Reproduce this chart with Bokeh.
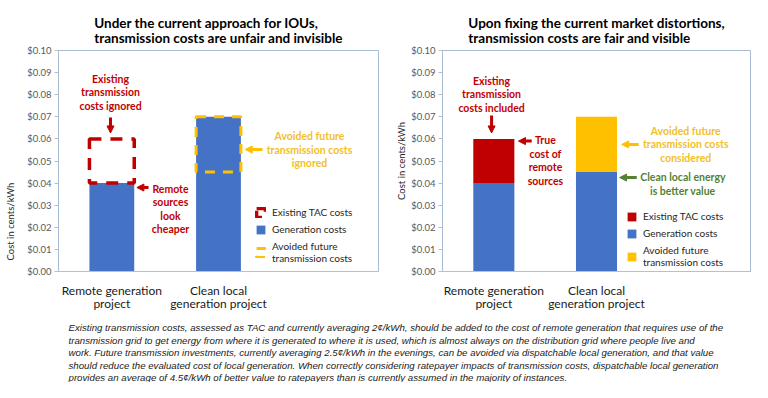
import math
from bokeh.plotting import figure
from bokeh.models import (Range1d, FixedTicker, NumeralTickFormatter, Label, Arrow, Title,
                          NormalHead, Legend, LegendItem, ColumnDataSource)
from bokeh.layouts import column, row
from bokeh.embed import file_html
from bokeh.resources import INLINE

# ---------------- data ----------------
categories = ["Remote generation\nproject", "Clean local\ngeneration project"]
cat_pos = [0.5, 1.5]
y_ticks = [0.00, 0.01, 0.02, 0.03, 0.04, 0.05, 0.06, 0.07, 0.08, 0.09, 0.10]

# left chart: current approach (costs hidden)
left_generation = [0.040, 0.070]
left_tac_ignored = [0.020, 0.000]
left_avoided_ignored = [0.000, 0.025]

# right chart: fixed market (costs visible)
right_generation = [0.040, 0.045]
right_tac = [0.020, 0.000]
right_avoided = [0.000, 0.025]

left_title = "Under the current approach for IOUs,\ntransmission costs are unfair and invisible"
right_title = "Upon fixing the current market distortions,\ntransmission costs are fair and visible"
y_label = "Cost in cents/kWh"
caption_lines = [
    "Existing transmission costs, assessed as TAC and currently averaging 2\u00a2/kWh, should be added to the cost of remote generation that requires use of the",
    "transmission grid to get energy from where it is generated to where it is used, which is almost always on the distribution grid where people live and",
    "work.  Future transmission investments, currently averaging 2.5\u00a2/kWh in the evenings, can be avoided via dispatchable local generation, and that value",
    "should reduce the evaluated cost of local generation. When correctly considering ratepayer impacts of transmission costs, dispatchable local generation",
    "provides an average of 4.5\u00a2/kWh of better value to ratepayers than is currently assumed in the majority of instances.",
]

BLUE = "#4472C4"
RED = "#C00000"
YEL = "#FFC000"
YEL_T = "#F2C029"
GREEN = "#548235"
FONT = "Lato"


def base_fig(width, left_border, right_border, title, title_offset):
    p = figure(width=width, height=318, output_backend="svg", toolbar_location=None,
               x_range=Range1d(0, 3), y_range=Range1d(0, 0.1),
               min_border_left=left_border, min_border_right=right_border,
               min_border_top=50, min_border_bottom=47)
    p.title = Title(text=title, align="center", offset=title_offset, standoff=9,
                    text_font=FONT, text_font_size="13.5px", text_font_style="bold",
                    text_color="#000000", text_line_height=0.95)
    p.xgrid.visible = False
    p.ygrid.visible = False
    p.outline_line_color = "#A9BCD6"
    p.outline_line_width = 1
    p.background_fill_color = "white"
    p.border_fill_color = "white"
    # y axis
    p.yaxis.ticker = FixedTicker(ticks=y_ticks)
    p.yaxis.formatter = NumeralTickFormatter(format="$0.00")
    p.yaxis.minor_tick_line_color = None
    p.yaxis.major_tick_in = 0
    p.yaxis.major_tick_out = 4
    p.yaxis.major_tick_line_color = "#BFBFBF"
    p.yaxis.axis_line_color = "#A9BCD6"
    p.yaxis.major_label_text_font = FONT
    p.yaxis.major_label_text_font_size = "9.5px"
    p.yaxis.major_label_text_color = "#595959"
    p.yaxis.major_label_standoff = 3
    # x axis
    p.xaxis.ticker = FixedTicker(ticks=cat_pos)
    p.xaxis.major_label_overrides = {cat_pos[i]: categories[i] for i in range(len(cat_pos))}
    p.xaxis.minor_tick_line_color = None
    p.xaxis.major_tick_line_color = None
    p.xaxis.major_tick_in = 0
    p.xaxis.major_tick_out = 0
    p.xaxis.axis_line_color = "#BFBFBF"
    p.xaxis.major_label_text_font = FONT
    p.xaxis.major_label_text_font_size = "12px"
    p.xaxis.major_label_text_color = "#1a1a1a"
    p.xaxis.major_label_text_line_height = 0.9
    p.xaxis.major_label_standoff = 11
    return p


def add_text(p, x, y, text, color, size="10.5px"):
    p.add_layout(Label(x=x, y=y, text=text, text_color=color, text_font=FONT,
                       text_font_size=size, text_font_style="bold",
                       text_align="center", text_baseline="middle", text_line_height=1.12))


def add_arrow(p, x0, y0, x1, y1, color):
    p.add_layout(Arrow(end=NormalHead(size=7, fill_color=color, line_color=color, line_width=1),
                       x_start=x0, y_start=y0, x_end=x1, y_end=y1,
                       line_color=color, line_width=3))


def make_legend(p, items, loc):
    lg = Legend(items=items, location=loc, padding=0, margin=0, spacing=5,
                glyph_width=11, glyph_height=11, label_height=11, label_standoff=6,
                label_text_font=FONT, label_text_font_size="10px", label_text_color="#262626",
                background_fill_alpha=0, border_line_color=None)
    p.add_layout(lg)


# ---------------- left chart ----------------
p1 = base_fig(380, 58, 2, left_title, -2)
src_l = ColumnDataSource(dict(
    x=cat_pos,
    gen=left_generation,
    tac_bot=[left_generation[i] if left_tac_ignored[i] > 0 else math.nan for i in range(2)],
    tac_top=[left_generation[i] + left_tac_ignored[i] if left_tac_ignored[i] > 0 else math.nan for i in range(2)],
    av_bot=[left_generation[i] - left_avoided_ignored[i] if left_avoided_ignored[i] > 0 else math.nan for i in range(2)],
    av_top=[left_generation[i] if left_avoided_ignored[i] > 0 else math.nan for i in range(2)],
))
r_gen = p1.vbar(x="x", top="gen", bottom=0, width=0.42, source=src_l,
                fill_color=BLUE, line_color=None)
r_tac = p1.vbar(x="x", top="tac_top", bottom="tac_bot", width=0.42, source=src_l,
                fill_color=None, line_color=RED, line_width=3.5, line_dash="12 9")
r_av = p1.vbar(x="x", top="av_top", bottom="av_bot", width=0.42, source=src_l,
               fill_color=None, line_color=YEL, line_width=3, line_dash="10 8")

add_text(p1, 0.4875, 0.0810, "Existing\ntransmission\ncosts ignored", RED)
add_arrow(p1, 0.4875, 0.0697, 0.4875, 0.0627, RED)
add_text(p1, 1.05, 0.0283, "Remote\nsources\nlook\ncheaper", RED)
add_arrow(p1, 0.844, 0.038, 0.735, 0.038, RED)
add_text(p1, 2.353, 0.0551, "Avoided future\ntransmission costs\nignored", YEL_T)
add_arrow(p1, 1.9125, 0.0552, 1.75, 0.0552, YEL)
make_legend(p1, [LegendItem(label="Existing TAC costs", renderers=[r_tac]),
                 LegendItem(label="Generation costs", renderers=[r_gen]),
                 LegendItem(label="Avoided future\ntransmission costs", renderers=[r_av])],
            (197, 7))
p1.add_layout(Label(x=-0.45, y=0.0226, text=y_label, angle=math.pi / 2,
                    text_font=FONT, text_font_size="9.5px", text_align="center",
                    text_baseline="middle", text_color="#262626"), "left")

# ---------------- right chart ----------------
p2 = base_fig(372, 62, 2, right_title, -6)
p2.yaxis.axis_label = y_label
p2.yaxis.axis_label_text_font = FONT
p2.yaxis.axis_label_text_font_size = "9.5px"
p2.yaxis.axis_label_text_font_style = "normal"
p2.yaxis.axis_label_text_color = "#262626"
p2.yaxis.axis_label_standoff = 1
src_r = ColumnDataSource(dict(
    x=cat_pos,
    gen=right_generation,
    tac_top=[right_generation[i] + right_tac[i] for i in range(2)],
    av_top=[right_generation[i] + right_tac[i] + right_avoided[i] for i in range(2)],
))
q_gen = p2.vbar(x="x", top="gen", bottom=0, width=0.40, source=src_r,
                fill_color=BLUE, line_color=None)
q_tac = p2.vbar(x="x", top="tac_top", bottom="gen", width=0.40, source=src_r,
                fill_color=RED, line_color=None)
q_av = p2.vbar(x="x", top="av_top", bottom="tac_top", width=0.40, source=src_r,
               fill_color=YEL, line_color=None)

add_text(p2, 0.478, 0.0801, "Existing\ntransmission\ncosts included", RED)
add_arrow(p2, 0.478, 0.0706, 0.478, 0.0627, RED)
add_text(p2, 1.003, 0.0502, "True\ncost of\nremote\nsources", RED)
add_arrow(p2, 0.869, 0.059, 0.74, 0.059, RED)
add_text(p2, 2.369, 0.0575, "Avoided future\ntransmission costs\nconsidered", YEL_T)
add_arrow(p2, 1.911, 0.0575, 1.745, 0.0575, YEL)
add_text(p2, 2.341, 0.0396, "Clean local energy\nis better value", GREEN)
add_arrow(p2, 1.892, 0.0425, 1.725, 0.0425, GREEN)
make_legend(p2, [LegendItem(label="Existing TAC costs", renderers=[q_tac]),
                 LegendItem(label="Generation costs", renderers=[q_gen]),
                 LegendItem(label="Avoided future\ntransmission costs", renderers=[q_av])],
            (184, 3))

# ---------------- caption ----------------
p3 = figure(width=752, height=64, output_backend="svg", toolbar_location=None,
            x_range=Range1d(0, 752), y_range=Range1d(0, 64),
            min_border=0)
p3.axis.visible = False
p3.grid.visible = False
p3.outline_line_color = None
for i, line in enumerate(caption_lines):
    p3.add_layout(Label(x=68, y=55 - i * 12.5, text=line, text_font="Liberation Sans",
                        text_font_size="9.7px", text_font_style="italic",
                        text_align="left", text_baseline="middle", text_color="#1a1a1a"))

layout = column(row(p1, p2), p3)
open("out.html", "w").write(file_html(layout, INLINE))
